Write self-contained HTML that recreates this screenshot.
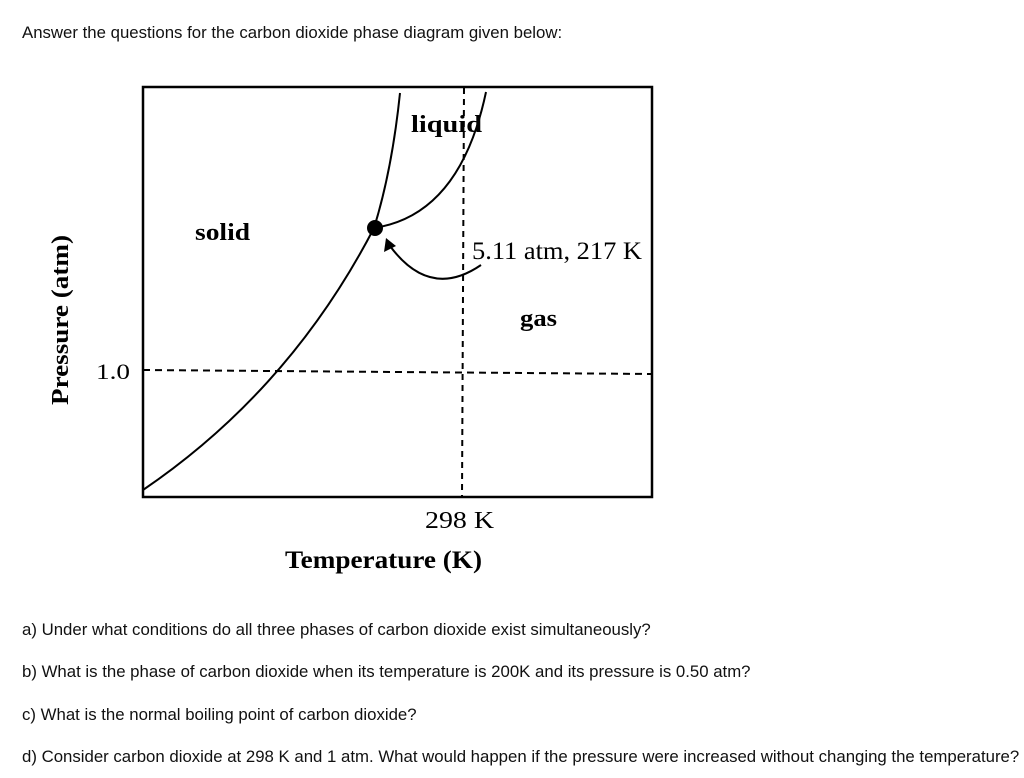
<!DOCTYPE html>
<html><head><style>
body{margin:0;background:#fff;width:1024px;height:778px;overflow:hidden;position:relative;font-family:"Liberation Sans",Arial,sans-serif;}
.q{position:absolute;left:22px;font-size:16.8px;color:#111;white-space:nowrap;}
</style></head><body>
<div class="q" style="top:23px">Answer the questions for the carbon dioxide phase diagram given below:</div>
<svg width="1024" height="600" style="position:absolute;left:0;top:0" font-family="Liberation Serif,serif">
<rect x="143" y="87" width="509" height="410" fill="none" stroke="#000" stroke-width="2.5"/>
<path d="M143,490 Q290,390 374,228 Q392,170 400,93" fill="none" stroke="#000" stroke-width="2"/>
<path d="M374,228 Q460,215 486,92" fill="none" stroke="#000" stroke-width="2"/>
<circle cx="375" cy="228" r="8" fill="#000"/>
<path d="M143,370 L652,374" stroke="#000" stroke-width="2" stroke-dasharray="7,5"/>
<path d="M464,88 L462,497" stroke="#000" stroke-width="2" stroke-dasharray="6,5"/>
<path d="M481,265 Q430,300 390,246" fill="none" stroke="#000" stroke-width="2"/>
<path d="M386,238 L384,252 L396,246 Z" fill="#000"/>
<text x="411" y="132" font-size="24" font-weight="bold" textLength="71" lengthAdjust="spacingAndGlyphs">liquid</text>
<text x="195" y="240" font-size="24" font-weight="bold" textLength="55" lengthAdjust="spacingAndGlyphs">solid</text>
<text x="520" y="326" font-size="24" font-weight="bold" textLength="37" lengthAdjust="spacingAndGlyphs">gas</text>
<text x="472" y="259" font-size="25" textLength="170" lengthAdjust="spacingAndGlyphs">5.11 atm, 217 K</text>
<text x="96" y="379" font-size="22" textLength="34" lengthAdjust="spacingAndGlyphs">1.0</text>
<text x="425" y="528" font-size="24" textLength="69" lengthAdjust="spacingAndGlyphs">298 K</text>
<text x="285" y="568" font-size="25" font-weight="bold" textLength="197" lengthAdjust="spacingAndGlyphs">Temperature (K)</text>
<text transform="translate(68,405) rotate(-90)" font-size="24" font-weight="bold" textLength="170" lengthAdjust="spacingAndGlyphs">Pressure (atm)</text>
</svg>
<div class="q" style="top:620px">a) Under what conditions do all three phases of carbon dioxide exist simultaneously?</div>
<div class="q" style="top:662px">b) What is the phase of carbon dioxide when its temperature is 200K and its pressure is 0.50 atm?</div>
<div class="q" style="top:705px">c) What is the normal boiling point of carbon dioxide?</div>
<div class="q" style="top:747px">d) Consider carbon dioxide at 298 K and 1 atm. What would happen if the pressure were increased without changing the temperature?</div>
</body></html>
